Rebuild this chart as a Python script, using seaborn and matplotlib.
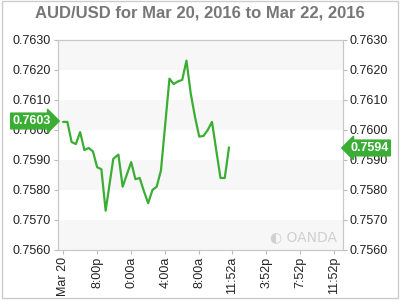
import matplotlib
matplotlib.use("Agg")
import matplotlib.pyplot as plt
import matplotlib.transforms as mtransforms
from matplotlib.patches import Rectangle
import seaborn as sns
import pandas as pd

# hours since Mar 20 16:00
hours = [0.0, 0.5, 1.0, 1.5, 2.0, 2.5, 3.0, 3.5, 4.0, 4.5, 5.0, 5.9, 6.5, 7.0,
         8.0, 8.5, 9.0, 9.5, 10.0, 10.5, 11.0, 11.5, 12.5, 13.0, 13.5, 14.0,
         14.5, 15.0, 15.5, 16.0, 16.5, 17.0, 17.5, 18.0, 18.5, 19.0, 19.5]
rates = [0.76027, 0.76027, 0.75960, 0.75953, 0.75993, 0.75933, 0.75940, 0.75929,
         0.75876, 0.75869, 0.75731, 0.75904, 0.75918, 0.75811, 0.75893, 0.75836,
         0.75840, 0.75796, 0.75756, 0.75800, 0.75811, 0.75865, 0.76171, 0.76153,
         0.76162, 0.76167, 0.76231, 0.76122, 0.76044, 0.75978, 0.75980, 0.76000,
         0.76027, 0.75933, 0.75840, 0.75840, 0.75942]
xtick_pos = [0, 4, 8, 12, 16, 19.867, 23.867, 27.867, 31.867]
xtick_labels = ["Mar 20", "8:00p", "0:00a", "4:00a", "8:00a", "11:52a", "3:52p", "7:52p", "11:52p"]
ytick_vals = [0.7560, 0.7570, 0.7580, 0.7590, 0.7600, 0.7610, 0.7620, 0.7630]
open_label = 0.7603
last_label = 0.7594
title = "AUD/USD for Mar 20, 2016 to Mar 22, 2016"

df = pd.DataFrame({"hours": hours, "rate": rates})

sns.set_style("white")
plt.rcParams["font.family"] = ["Liberation Sans", "DejaVu Sans"]

green = "#3aae34"
fig = plt.figure(figsize=(4, 3), dpi=100)
ax = fig.add_axes([0.145, 0.1667, 0.7125, 0.70])

# alternating bands
for i in range(len(ytick_vals) - 1):
    if i % 2 == 0:
        ax.axhspan(ytick_vals[i], ytick_vals[i + 1], color="#f7f7f7", lw=0, zorder=0)

sns.lineplot(data=df, x="hours", y="rate", ax=ax, color=green, lw=1.6,
             estimator=None, zorder=3)

ax.set_xlim(-0.6, 32.9)
ax.set_ylim(0.7560, 0.7630)
ax.set_xticks(xtick_pos)
ax.set_xticklabels(xtick_labels, rotation=90, fontsize=9, color="#222222")
ax.set_yticks(ytick_vals)
ax.set_yticklabels([f"{v:.4f}" for v in ytick_vals], fontsize=9, color="#222222")
ax.tick_params(axis="y", left=True, right=True, labelleft=True, labelright=True,
               length=3, width=0.8, color="#bbbbbb", pad=2)
ax.tick_params(axis="x", bottom=True, length=3, width=0.8, color="#bbbbbb", pad=2)
ax.set_xlabel("")
ax.set_ylabel("")
for s in ax.spines.values():
    s.set_visible(True)
    s.set_color("#c8c8c8")
    s.set_linewidth(0.9)

trans = mtransforms.blended_transform_factory(ax.transAxes, ax.transData)
ax.text(-0.025, open_label, f"{open_label:.4f}", transform=trans, ha="right", va="center",
        fontsize=9, fontweight="bold", color="white", zorder=5, clip_on=False,
        bbox=dict(boxstyle="rarrow,pad=0.15", fc=green, ec=green))
ax.text(1.025, last_label, f"{last_label:.4f}", transform=trans, ha="left", va="center",
        fontsize=9, fontweight="bold", color="white", zorder=5, clip_on=False,
        bbox=dict(boxstyle="larrow,pad=0.15", fc=green, ec=green))

ax.text(0.98, 0.06, "◐ OANDA", transform=ax.transAxes, ha="right", va="center",
        fontsize=10, color="#d0d0d0", family=["DejaVu Sans"], zorder=2)

fig.text(0.5, 0.955, title, ha="center", va="center", fontsize=12,
         fontweight="bold", color="#777777")

fig.patches.append(Rectangle((0.004, 0.008), 0.992, 0.99, transform=fig.transFigure,
                             fill=False, ec="#cccccc", lw=1))

fig.savefig("out.png", dpi=100)
